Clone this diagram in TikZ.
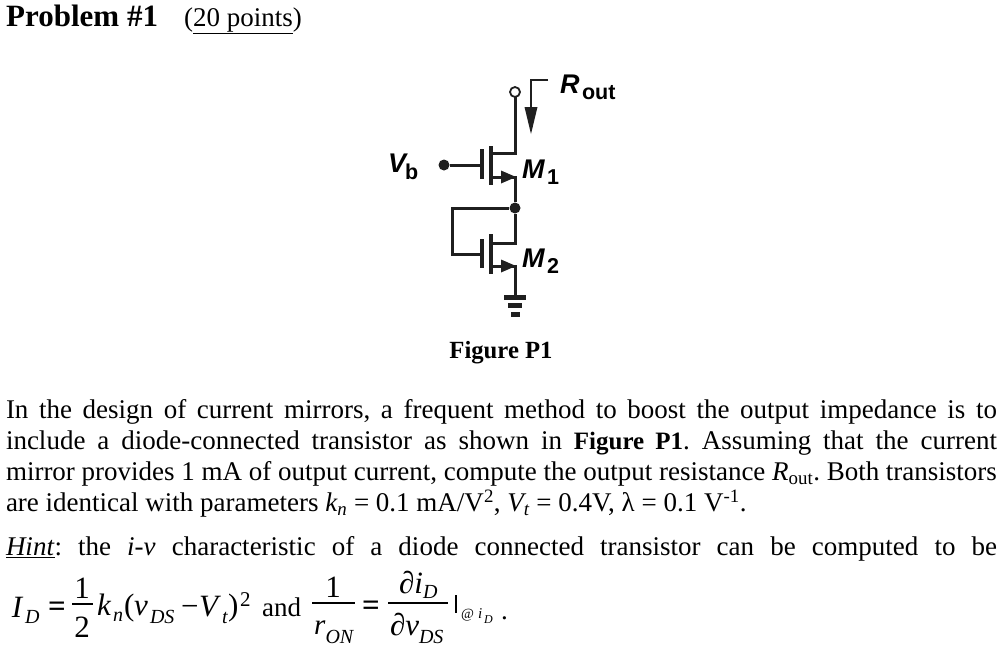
\documentclass[tikz,border=0pt]{standalone}
\usepackage{fontspec}
\setmainfont{Liberation Serif}
\newfontfamily\cirfont{Liberation Sans}
\frenchspacing
\newcommand{\jl}[1]{\makebox[991pt][s]{#1}}
\colorlet{ink}{black!88}
\tikzset{
  wire/.style={line width=3pt,line cap=butt,line join=miter,draw=ink},
  thin wire/.style={line width=2pt,draw=ink},
  bar/.style={line width=4.5pt,draw=ink},
  txt/.style={anchor=base west,inner sep=0pt,outer sep=0pt,font=\fontsize{27}{30}\selectfont},
  eq/.style={anchor=base west,inner sep=0pt,outer sep=0pt,font=\fontsize{31}{34}\selectfont},
  digit/.style={anchor=base,inner sep=0pt,outer sep=0pt,font=\fontsize{31}{34}\selectfont},
  subs/.style={anchor=base west,inner sep=0pt,outer sep=0pt,font=\itshape\fontsize{20}{22}\selectfont},
  eqsign/.style={anchor=base,inner sep=0pt,outer sep=0pt,font=\bfseries\fontsize{31}{34}\selectfont},
  lab/.style={anchor=base west,inner sep=0pt,outer sep=0pt,font=\cirfont\bfseries\itshape\fontsize{27}{30}\selectfont},
  labsub/.style={anchor=base west,inner sep=0pt,outer sep=0pt,font=\cirfont\bfseries\fontsize{21.5}{24}\selectfont},
  dotnode/.style={circle,fill=ink,inner sep=0pt,minimum size=11pt},
  opennode/.style={circle,draw=ink,line width=1.8pt,fill=white,inner sep=0pt,minimum size=10pt},
  fracbar/.style={line width=1.5pt,draw=black}
}
\begin{document}
\begin{tikzpicture}[x=1pt,y=-1pt]
\useasboundingbox (0,0) rectangle (1001,648);
% title
\node[anchor=base west,inner sep=0pt,font=\bfseries\fontsize{31}{34}\selectfont] (title) at (6,26) {Problem \#1};
\node[anchor=base west,inner sep=0pt,font=\fontsize{27}{30}\selectfont] (pts) at (184,26) {(\underline{20 points})};
% circuit coordinates
\coordinate (d1) at (515,153);
\coordinate (d1s) at (491,153);
\coordinate (ch1a) at (491,146);
\coordinate (ch1b) at (491,185);
\coordinate (g1a) at (482,149);
\coordinate (g1b) at (482,179);
\coordinate (g1m) at (482,165);
\node[dotnode] (vb) at (444,165) {};
\coordinate (s1s) at (491,177);
\coordinate (s1) at (515,177);
\node[dotnode] (mid) at (515,208) {};
\coordinate (boxtl) at (452,208);
\coordinate (boxbl) at (452,254);
\coordinate (g2m) at (482,254);
\coordinate (g2a) at (482,239);
\coordinate (g2b) at (482,268);
\coordinate (ch2a) at (491,234);
\coordinate (ch2b) at (491,274);
\coordinate (d2s) at (491,243);
\coordinate (d2) at (515,243);
\coordinate (s2s) at (491,266);
\coordinate (s2) at (515,266);
\coordinate (gnd) at (515,297);
\coordinate (ra) at (548,80);
\coordinate (rb) at (531,80);
\coordinate (rc) at (531,134);
% wires
\draw[wire] (515,92) -- (d1) -- (d1s);
\node[opennode] (out) at (515,92) {};
\draw[bar] (ch1a) -- (ch1b);
\draw[bar] (g1a) -- (g1b);
\draw[wire] (vb) -- (g1m);
\draw[wire] (s1s) -- (s1) -- (mid);
\draw[wire] (mid) -- (d2) -- (d2s);
\draw[wire] (mid) -- (boxtl) -- (boxbl) -- (g2m);
\draw[bar] (ch2a) -- (ch2b);
\draw[bar] (g2a) -- (g2b);
\draw[wire] (s2s) -- (s2) -- (gnd);
\fill[ink] (516,177) -- (501,170.5) -- (501,183.5) -- cycle;
\fill[ink] (516,266) -- (501,259.5) -- (501,272.5) -- cycle;
% ground
\fill[ink] (504,294.5) rectangle (526,299.5);
\fill[ink] (508,303) rectangle (522,307.5);
\fill[ink] (511,312) rectangle (520,316.5);
% Rout arrow
\draw[thin wire] (ra) -- (rb) -- (531,110);
\fill[ink] (rc) -- (524.5,107) -- (537.5,107) -- cycle;
% circuit labels
\node[lab] (rl) at (560,93) {R};
\node[labsub] (rls) at (582,99) {out};
\node[lab] (vl) at (388,172) {V};
\node[labsub] (vls) at (405,179) {b};
\node[lab] (m1) at (522,178) {M};
\node[labsub] (m1s) at (547,184) {1};
\node[lab] (m2) at (522,267) {M};
\node[labsub] (m2s) at (547,273) {2};
\node[anchor=base,inner sep=0pt,font=\bfseries\fontsize{24.7}{28}\selectfont] (fig) at (501,358) {Figure P1};
% paragraph
\node[txt] (l1) at (6,418.5) {\jl{In the design of current mirrors, a frequent method to boost the output impedance is to}};
\node[txt] (l2) at (6,449.5) {\jl{include a diode-connected transistor as shown in {\bfseries\fontsize{25}{30}\selectfont Figure P1}. Assuming that the current}};
\node[txt] (l3) at (6,480.5) {\jl{mirror provides 1 mA of output current, compute the output resistance \textit{R}\textsubscript{out}. Both transistors}};
\node[txt] (l4) at (6,511.5) {are identical with parameters \textit{k\textsubscript{n}} = 0.1 mA/V\textsuperscript{2}, \textit{V\textsubscript{t}} = 0.4V, λ = 0.1 V\textsuperscript{-1}.};
\node[txt] (l5) at (6,555.5) {\jl{\underline{\textit{Hint}}: the \textit{i-v} characteristic of a diode connected transistor can be computed to be}};
% equation
\node[eq] (id) at (12,617) {\textit{I}};
\node[subs] (idd) at (25,623) {D};
\node[eqsign] (e1) at (57,616) {=};
\node[digit] (n1) at (82,598) {1};
\draw[fracbar] (72,604) -- (93,604);
\node[digit] (dn) at (82,637) {2};
\node[eq] (kn) at (97,615) {\textit{k}};
\node[subs] (kns) at (113,621) {n};
\node[eq] (par) at (124,615) {(};
\node[eq] (vv) at (134,615) {\textit{v}};
\node[subs] (vds) at (150,623) {DS};
\node[eq] (minus) at (181,616) {−};
\node[eq] (vt) at (199,616) {\textit{V}};
\node[subs] (vts) at (222,623) {t};
\node[eq] (close) at (228,615) {)};
\node[anchor=base west,inner sep=0pt,font=\fontsize{21}{24}\selectfont] (sq) at (240,606) {2};
\node[anchor=base west,inner sep=0pt,font=\fontsize{27}{30}\selectfont] (and) at (262,616) {and};
\node[digit] (n2) at (333,597) {1};
\draw[fracbar] (312,603) -- (355,603);
\node[anchor=base west,inner sep=0pt,font=\itshape\fontsize{29}{32}\selectfont] (ron) at (314,634) {r};
\node[subs] (rons) at (325.5,643) {ON};
\node[eqsign] (e2) at (371,615) {=};
\node[eq] (di) at (399,593) {∂\textit{i}};
\node[subs] (dis) at (423,598) {D};
\draw[fracbar] (388,603) -- (448,603);
\node[eq] (dv) at (390,635) {∂\textit{v}};
\node[subs] (dvs) at (419,643) {DS};
\draw[line width=1.4pt] (456,595) -- (456,613);
\node[anchor=base west,inner sep=0pt,font=\fontsize{14}{16}\selectfont] (at) at (461,618) {@};
\node[anchor=base west,inner sep=0pt,font=\itshape\fontsize{15}{16}\selectfont] (ati) at (478,618) {i};
\node[anchor=base west,inner sep=0pt,font=\itshape\fontsize{12}{13}\selectfont] (ats) at (484,623) {D};
\node[anchor=base west,inner sep=0pt,font=\fontsize{27}{30}\selectfont] (dot) at (501,619) {.};
\end{tikzpicture}
\end{document}
